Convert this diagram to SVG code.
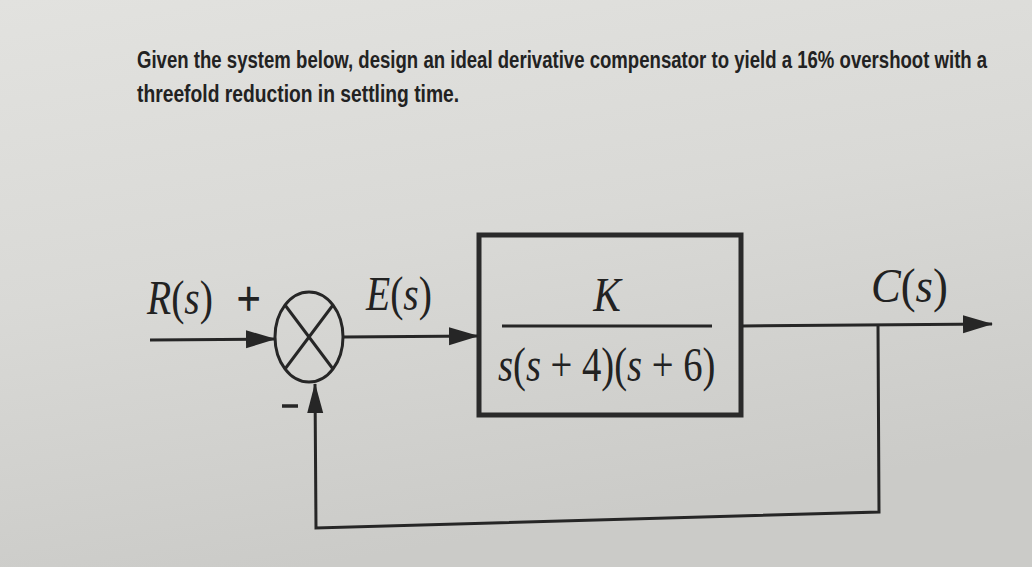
<svg xmlns="http://www.w3.org/2000/svg" width="1032" height="567" viewBox="0 0 1032 567">
<defs>
<linearGradient id="bg" x1="0" y1="0" x2="0.3" y2="1">
<stop offset="0" stop-color="#e2e2df"/>
<stop offset="0.5" stop-color="#d9d9d6"/>
<stop offset="1" stop-color="#cbcbc8"/>
</linearGradient>
<marker id="arr" viewBox="0 0 30 20" refX="29" refY="10" markerWidth="30" markerHeight="20" markerUnits="userSpaceOnUse" orient="auto">
<path d="M0,1 L30,10 L0,19 z" fill="#262626"/>
</marker>
<marker id="arrs" viewBox="0 0 30 18" refX="29" refY="9" markerWidth="30" markerHeight="18" markerUnits="userSpaceOnUse" orient="auto">
<path d="M0,1 L30,9 L0,17 z" fill="#262626"/>
</marker>
<style>
.title{font-family:"Liberation Sans",Arial,sans-serif;font-weight:bold;font-size:24px;fill:#222}
.m{font-family:"Liberation Serif","Times New Roman",serif;font-size:46px;fill:#222}
.i{font-style:italic}
.ln{stroke:#262626;stroke-width:3;fill:none}
</style>
</defs>
<rect width="1032" height="567" fill="url(#bg)"/>
<g id="title">
<text class="title" transform="translate(137,68) scale(0.78,1)" textLength="1090" lengthAdjust="spacingAndGlyphs">Given the system below, design an ideal derivative compensator to yield a 16% overshoot with a</text>
<text class="title" transform="translate(137,102) scale(0.78,1)" textLength="413" lengthAdjust="spacingAndGlyphs">threefold reduction in settling time.</text>
</g>
<g id="sum">
<ellipse cx="309" cy="337" rx="34" ry="45" class="ln"/>
<line x1="285" y1="305" x2="333" y2="369" class="ln"/>
<line x1="333" y1="305" x2="285" y2="369" class="ln"/>
<text class="m" transform="translate(237,315) scale(0.9,1.05)" stroke="#222" stroke-width="1.2">+</text>
<line x1="282" y1="406" x2="298" y2="406" stroke="#262626" stroke-width="3.5"/>
</g>
<g id="plant">
<rect x="479" y="235" width="262" height="180" fill="none" stroke="#2a2a2a" stroke-width="5"/>
<text class="m i" transform="translate(607,311) scale(0.9,1.05)" text-anchor="middle">K</text>
<line x1="502" y1="326" x2="712" y2="326" stroke="#262626" stroke-width="3"/>
<text class="m" transform="translate(498,381) scale(0.84,1.05)"><tspan class="i">s</tspan>(<tspan class="i">s</tspan> + 4)(<tspan class="i">s</tspan> + 6)</text>
</g>
<g id="labels">
<text class="m" transform="translate(147,314) scale(0.86,1.05)"><tspan class="i">R</tspan>(<tspan class="i">s</tspan>)</text>
<text class="m" transform="translate(366,310) scale(0.86,1.05)"><tspan class="i">E</tspan>(<tspan class="i">s</tspan>)</text>
<text class="m" transform="translate(871,302) scale(0.97,1.05)"><tspan class="i">C</tspan>(<tspan class="i">s</tspan>)</text>
</g>
<g id="connectors">
<line x1="150" y1="340" x2="275" y2="339" class="ln" marker-end="url(#arr)"/>
<line x1="343" y1="337" x2="478" y2="336" class="ln" marker-end="url(#arr)"/>
<line x1="742" y1="326" x2="992" y2="324" class="ln" marker-end="url(#arr)"/>
<polyline points="878,326 879,512 316,528 315,384" class="ln" marker-end="url(#arrs)"/>
</g>
</svg>
